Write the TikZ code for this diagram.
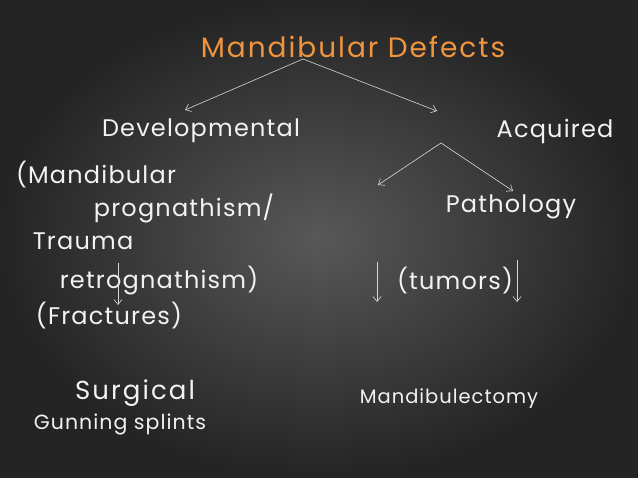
\documentclass[tikz,border=0pt]{standalone}
\usepackage{fontspec}
\setmainfont{Poppins}
\usetikzlibrary{arrows.meta}

\definecolor{chalk}{RGB}{242,242,242}
\definecolor{chalkline}{RGB}{215,215,215}
\definecolor{titleorange}{RGB}{240,148,62}
\definecolor{slatelight}{RGB}{88,88,88}
\definecolor{slatedark}{RGB}{36,36,36}

\tikzset{
  big/.style={text=chalk, font=\fontsize{24}{28}\selectfont\addfontfeature{LetterSpace=5}},
  small/.style={text=chalk, font=\fontsize{19.5}{23}\selectfont\addfontfeature{LetterSpace=5}},
  title/.style={text=titleorange, font=\fontsize{28}{32}\selectfont\addfontfeature{LetterSpace=7}}
}
\tikzset{arr/.style={draw=chalkline, line width=0.6pt, -{Straight Barb[length=5pt,width=8pt]}}}

\begin{document}
\begin{tikzpicture}[x=1pt, y=-1pt]
          \useasboundingbox (0,0) rectangle (638,478);
          \shade[inner color=slatelight, outer color=slatedark] (0,0) rectangle (638,478);
          %
          \node[title] (defects) at (353, 47) {Mandibular Defects};
          \node[big] (dev) at (201, 131) {Developmental};
          \node[big] (acq) at (555, 131) {Acquired};
          \node[big] (mand) at (96, 175) {(Mandibular};
          \node[big] (prog) at (184, 208) {prognathism/};
          \node[big] (path) at (511, 207) {Pathology};
          \node[big] (trauma) at (83, 241) {Trauma};
          \node[big] (retro) at (159, 281) {retrognathism)};
          \node[big] (frac) at (109, 316) {(Fractures)};
          \node[big] (tumors) at (455, 281) {(tumors)};
          \node[big, font=\fontsize{26}{30}\selectfont\addfontfeature{LetterSpace=8}] (surg) at (135, 393) {Surgical};
          \node[small, font=\fontsize{20.5}{24}\selectfont\addfontfeature{LetterSpace=5}] (gunning) at (120, 424) {Gunning splints};
          \node[small] (resect) at (449, 399) {Mandibulectomy};
          %
          \coordinate (split) at (303, 59);
          \coordinate (devtip) at (185, 110);
          \coordinate (acqtip) at (437, 111);
          \coordinate (acqsplit) at (441, 143);
          \coordinate (lefttip) at (378, 185);
          \coordinate (pathtip) at (513, 191);
          \draw[arr] (split) -- (devtip);
          \draw[arr] (split) -- (acqtip);
          \draw[arr] (acqsplit) -- (lefttip);
          \draw[arr] (acqsplit) -- (pathtip);
          %
          \coordinate (traumadown) at (118, 263);
          \coordinate (fractip) at (118, 305);
          \coordinate (leftdown) at (377, 262);
          \coordinate (lefttipb) at (377, 302);
          \coordinate (tumordown) at (517, 260);
          \coordinate (tumortip) at (517, 302);
          \draw[arr] (traumadown) -- (fractip);
          \draw[arr] (leftdown) -- (lefttipb);
          \draw[arr] (tumordown) -- (tumortip);
        \end{tikzpicture}
\end{document}
